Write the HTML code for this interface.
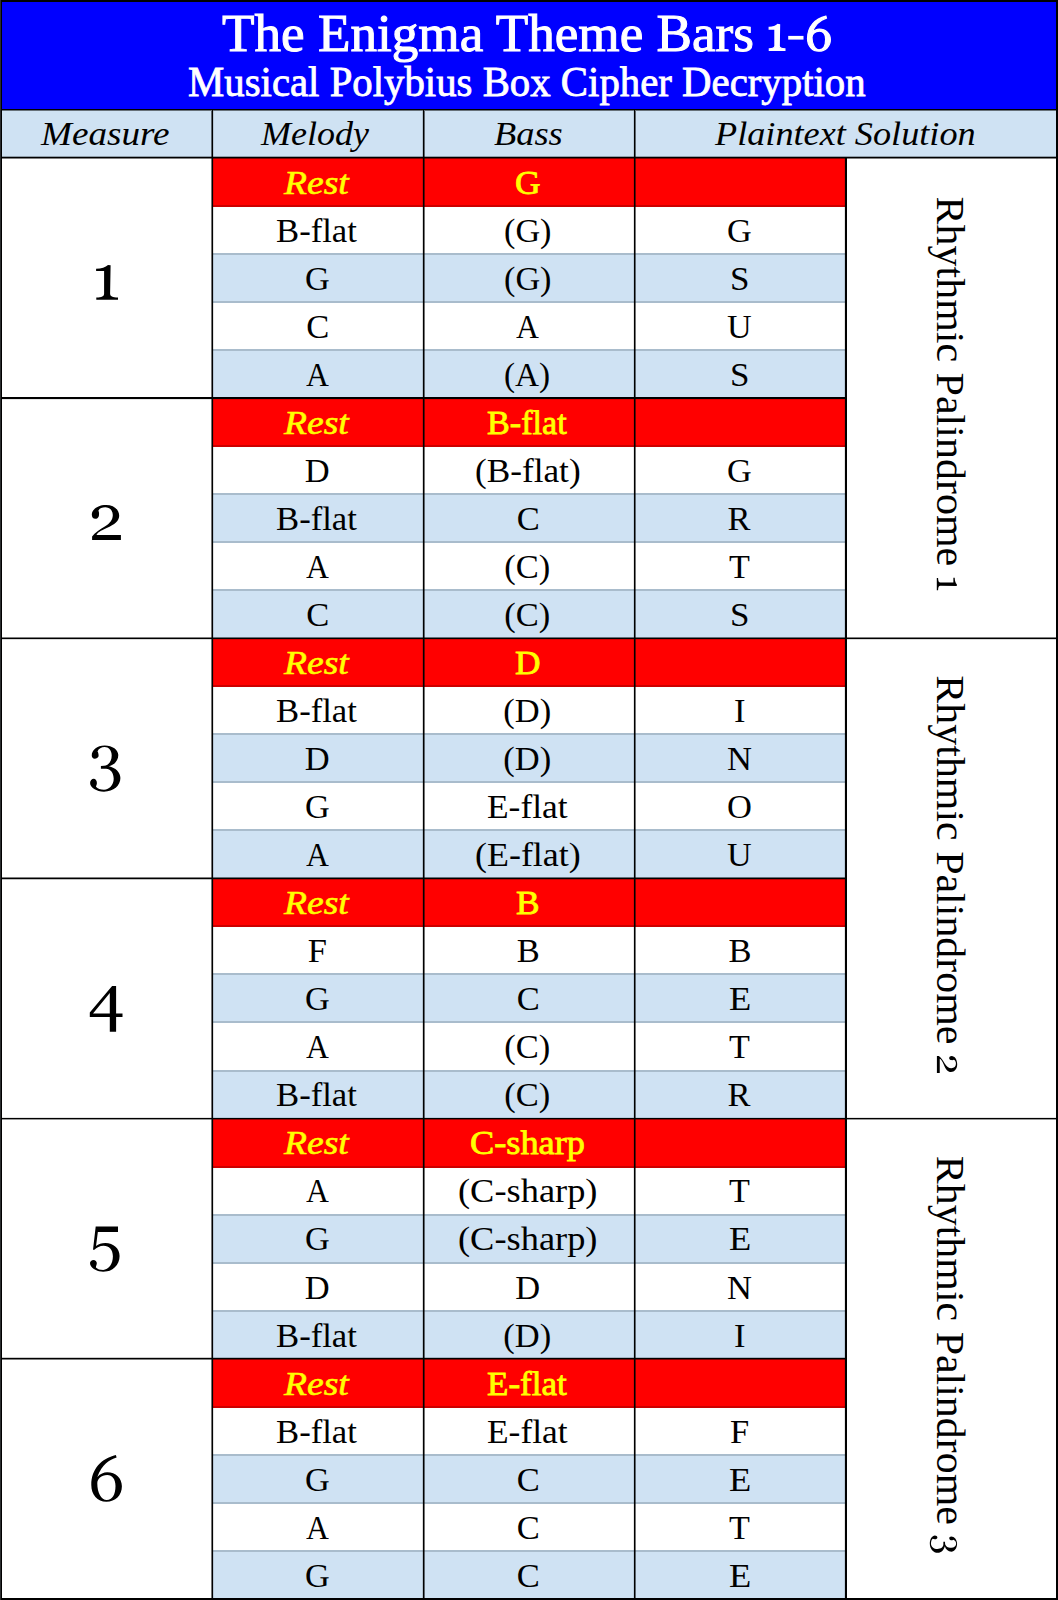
<!DOCTYPE html><html><head><meta charset="utf-8"><title>The Enigma Theme Bars 1-6</title><style>
html,body{margin:0;padding:0;background:#fff}body{width:1058px;height:1600px;position:relative;overflow:hidden}
.b{position:absolute}
.t{position:absolute;height:0;line-height:0;white-space:nowrap;font-family:"Liberation Serif",serif;transform-origin:0 0}
</style></head><body>
<div class="b" style="left:2px;top:2px;width:1054px;height:107px;background:#0000ff"></div>
<div class="b" style="left:2px;top:110px;width:1054px;height:47px;background:#cfe2f3"></div>
<div class="b" style="left:213px;top:158px;width:632px;height:48px;background:#ff0000"></div>
<div class="b" style="left:213px;top:206px;width:632px;height:48px;background:#ffffff"></div>
<div class="b" style="left:213px;top:254px;width:632px;height:48px;background:#cfe2f3"></div>
<div class="b" style="left:213px;top:302px;width:632px;height:48px;background:#ffffff"></div>
<div class="b" style="left:213px;top:350px;width:632px;height:48px;background:#cfe2f3"></div>
<div class="b" style="left:213px;top:398px;width:632px;height:48px;background:#ff0000"></div>
<div class="b" style="left:213px;top:446px;width:632px;height:48px;background:#ffffff"></div>
<div class="b" style="left:213px;top:494px;width:632px;height:48px;background:#cfe2f3"></div>
<div class="b" style="left:213px;top:542px;width:632px;height:48px;background:#ffffff"></div>
<div class="b" style="left:213px;top:590px;width:632px;height:48px;background:#cfe2f3"></div>
<div class="b" style="left:213px;top:638px;width:632px;height:48px;background:#ff0000"></div>
<div class="b" style="left:213px;top:686px;width:632px;height:48px;background:#ffffff"></div>
<div class="b" style="left:213px;top:734px;width:632px;height:49px;background:#cfe2f3"></div>
<div class="b" style="left:213px;top:783px;width:632px;height:48px;background:#ffffff"></div>
<div class="b" style="left:213px;top:831px;width:632px;height:48px;background:#cfe2f3"></div>
<div class="b" style="left:213px;top:879px;width:632px;height:48px;background:#ff0000"></div>
<div class="b" style="left:213px;top:927px;width:632px;height:48px;background:#ffffff"></div>
<div class="b" style="left:213px;top:975px;width:632px;height:48px;background:#cfe2f3"></div>
<div class="b" style="left:213px;top:1023px;width:632px;height:48px;background:#ffffff"></div>
<div class="b" style="left:213px;top:1071px;width:632px;height:48px;background:#cfe2f3"></div>
<div class="b" style="left:213px;top:1119px;width:632px;height:48px;background:#ff0000"></div>
<div class="b" style="left:213px;top:1167px;width:632px;height:48px;background:#ffffff"></div>
<div class="b" style="left:213px;top:1215px;width:632px;height:48px;background:#cfe2f3"></div>
<div class="b" style="left:213px;top:1263px;width:632px;height:48px;background:#ffffff"></div>
<div class="b" style="left:213px;top:1311px;width:632px;height:48px;background:#cfe2f3"></div>
<div class="b" style="left:213px;top:1359px;width:632px;height:48px;background:#ff0000"></div>
<div class="b" style="left:213px;top:1407px;width:632px;height:48px;background:#ffffff"></div>
<div class="b" style="left:213px;top:1455px;width:632px;height:48px;background:#cfe2f3"></div>
<div class="b" style="left:213px;top:1503px;width:632px;height:48px;background:#ffffff"></div>
<div class="b" style="left:213px;top:1551px;width:632px;height:48px;background:#cfe2f3"></div>
<div class="b" style="left:213px;top:205px;width:632px;height:2px;background:#cc0000"></div>
<div class="b" style="left:213px;top:253px;width:632px;height:2px;background:#a9bccc"></div>
<div class="b" style="left:213px;top:301px;width:632px;height:2px;background:#a9bccc"></div>
<div class="b" style="left:213px;top:349px;width:632px;height:2px;background:#a9bccc"></div>
<div class="b" style="left:213px;top:445px;width:632px;height:2px;background:#cc0000"></div>
<div class="b" style="left:213px;top:493px;width:632px;height:2px;background:#a9bccc"></div>
<div class="b" style="left:213px;top:541px;width:632px;height:2px;background:#a9bccc"></div>
<div class="b" style="left:213px;top:589px;width:632px;height:2px;background:#a9bccc"></div>
<div class="b" style="left:213px;top:685px;width:632px;height:2px;background:#cc0000"></div>
<div class="b" style="left:213px;top:733px;width:632px;height:2px;background:#a9bccc"></div>
<div class="b" style="left:213px;top:781px;width:632px;height:2px;background:#a9bccc"></div>
<div class="b" style="left:213px;top:829px;width:632px;height:2px;background:#a9bccc"></div>
<div class="b" style="left:213px;top:925px;width:632px;height:2px;background:#cc0000"></div>
<div class="b" style="left:213px;top:973px;width:632px;height:2px;background:#a9bccc"></div>
<div class="b" style="left:213px;top:1021px;width:632px;height:2px;background:#a9bccc"></div>
<div class="b" style="left:213px;top:1070px;width:632px;height:2px;background:#a9bccc"></div>
<div class="b" style="left:213px;top:1166px;width:632px;height:2px;background:#cc0000"></div>
<div class="b" style="left:213px;top:1214px;width:632px;height:2px;background:#a9bccc"></div>
<div class="b" style="left:213px;top:1262px;width:632px;height:2px;background:#a9bccc"></div>
<div class="b" style="left:213px;top:1310px;width:632px;height:2px;background:#a9bccc"></div>
<div class="b" style="left:213px;top:1406px;width:632px;height:2px;background:#cc0000"></div>
<div class="b" style="left:213px;top:1454px;width:632px;height:2px;background:#a9bccc"></div>
<div class="b" style="left:213px;top:1502px;width:632px;height:2px;background:#a9bccc"></div>
<div class="b" style="left:213px;top:1550px;width:632px;height:2px;background:#a9bccc"></div>
<div class="b" style="left:0px;top:0px;width:1058px;height:2px;background:#000000"></div>
<div class="b" style="left:0px;top:1598px;width:1058px;height:2px;background:#000000"></div>
<div class="b" style="left:1px;top:0px;width:1px;height:1600px;background:#000000"></div>
<div class="b" style="left:0px;top:0px;width:1px;height:1600px;background:#2b2d2f"></div>
<div class="b" style="left:1056px;top:0px;width:2px;height:1600px;background:#000000"></div>
<div class="b" style="left:2px;top:109px;width:1054px;height:1px;background:#000000"></div>
<div class="b" style="left:2px;top:110px;width:1054px;height:1px;background:rgba(0,0,0,0.5)"></div>
<div class="b" style="left:211px;top:111px;width:1px;height:1487px;background:rgba(0,0,0,0.55)"></div>
<div class="b" style="left:212px;top:110px;width:1px;height:1488px;background:#000000"></div>
<div class="b" style="left:213px;top:111px;width:1px;height:1487px;background:rgba(0,0,0,0.12)"></div>
<div class="b" style="left:422px;top:111px;width:1px;height:1487px;background:rgba(0,0,0,0.15)"></div>
<div class="b" style="left:423px;top:110px;width:1px;height:1488px;background:#000000"></div>
<div class="b" style="left:424px;top:111px;width:1px;height:1487px;background:rgba(0,0,0,0.55)"></div>
<div class="b" style="left:633px;top:111px;width:1px;height:1487px;background:rgba(0,0,0,0.1)"></div>
<div class="b" style="left:634px;top:110px;width:1px;height:1488px;background:#000000"></div>
<div class="b" style="left:635px;top:111px;width:1px;height:1487px;background:rgba(0,0,0,0.55)"></div>
<div class="b" style="left:844px;top:158px;width:1px;height:1440px;background:rgba(0,0,0,0.1)"></div>
<div class="b" style="left:845px;top:157px;width:2px;height:1441px;background:#000000"></div>
<div class="b" style="left:2px;top:156px;width:1054px;height:1px;background:rgba(0,0,0,0.3)"></div>
<div class="b" style="left:2px;top:158px;width:1054px;height:1px;background:rgba(0,0,0,0.5)"></div>
<div class="b" style="left:2px;top:157px;width:1054px;height:1px;background:#000000"></div>
<div class="b" style="left:2px;top:399px;width:843px;height:1px;background:rgba(0,0,0,0.1)"></div>
<div class="b" style="left:2px;top:397px;width:843px;height:1px;background:#000000"></div>
<div class="b" style="left:2px;top:398px;width:843px;height:1px;background:#000000"></div>
<div class="b" style="left:2px;top:637px;width:1054px;height:1px;background:rgba(0,0,0,0.5)"></div>
<div class="b" style="left:2px;top:639px;width:1054px;height:1px;background:rgba(0,0,0,0.15)"></div>
<div class="b" style="left:2px;top:638px;width:1054px;height:1px;background:#000000"></div>
<div class="b" style="left:2px;top:877px;width:843px;height:1px;background:rgba(0,0,0,0.5)"></div>
<div class="b" style="left:2px;top:879px;width:843px;height:1px;background:rgba(0,0,0,0.25)"></div>
<div class="b" style="left:2px;top:878px;width:843px;height:1px;background:#000000"></div>
<div class="b" style="left:2px;top:1117px;width:1054px;height:1px;background:rgba(0,0,0,0.1)"></div>
<div class="b" style="left:2px;top:1119px;width:1054px;height:1px;background:rgba(0,0,0,0.4)"></div>
<div class="b" style="left:2px;top:1118px;width:1054px;height:1px;background:#000000"></div>
<div class="b" style="left:2px;top:1357px;width:843px;height:1px;background:rgba(0,0,0,0.2)"></div>
<div class="b" style="left:2px;top:1359px;width:843px;height:1px;background:rgba(0,0,0,0.5)"></div>
<div class="b" style="left:2px;top:1358px;width:843px;height:1px;background:#000000"></div>
<div class="t" style="left:221.6px;top:32.8px;font-size:52.7px;color:#fff;-webkit-text-stroke:1.0px #fff;transform:scaleX(1.0091)">The Enigma Theme Bars<span style="color:transparent;-webkit-text-stroke:0"> 1-6</span></div>
<div class="t" style="left:187.91px;top:82.3px;font-size:41.2px;color:#fff;-webkit-text-stroke:0.8px #fff;transform:scaleX(0.9905)">Musical Polybius Box Cipher Decryption</div>
<div class="t" style="left:41px;top:134.2px;font-size:33.6px;color:#000;font-style:italic;transform:scaleX(1.1061)">Measure</div>
<div class="t" style="left:261.2px;top:134.2px;font-size:33.6px;color:#000;font-style:italic;transform:scaleX(1.0723)">Melody</div>
<div class="t" style="left:493.82px;top:134.2px;font-size:33.6px;color:#000;font-style:italic;transform:scaleX(1.0836)">Bass</div>
<div class="t" style="left:715px;top:134.2px;font-size:33.6px;color:#000;font-style:italic;transform:scaleX(1.0792)">Plaintext Solution</div>
<div class="t" style="left:284.1px;top:182.6px;font-size:34px;color:#ffff00;font-style:italic;-webkit-text-stroke:0.6px #ffff00;transform:scaleX(1.1051)">Rest</div>
<div class="t" style="left:514.8px;top:182.6px;font-size:34px;color:#ffff00;-webkit-text-stroke:0.8px #ffff00;transform:scaleX(1.0400)">G</div>
<div class="t" style="left:276.49px;top:229.64px;font-size:34.5px;color:#000;transform:scaleX(1.0051)">B-flat</div>
<div class="t" style="left:503.52px;top:229.64px;font-size:34.5px;color:#000;transform:scaleX(0.9911)">(G)</div>
<div class="t" style="left:727.21px;top:229.64px;font-size:34.5px;color:#000;transform:scaleX(0.9913)">G</div>
<div class="t" style="left:304.81px;top:277.68px;font-size:34.5px;color:#000;transform:scaleX(0.9913)">G</div>
<div class="t" style="left:503.52px;top:277.68px;font-size:34.5px;color:#000;transform:scaleX(0.9911)">(G)</div>
<div class="t" style="left:729.97px;top:277.68px;font-size:34.5px;color:#000;transform:scaleX(1.0133)">S</div>
<div class="t" style="left:306.2px;top:325.72px;font-size:34.5px;color:#000">C</div>
<div class="t" style="left:516.3px;top:325.72px;font-size:34.5px;color:#000;transform:scaleX(0.9200)">A</div>
<div class="t" style="left:727.21px;top:325.72px;font-size:34.5px;color:#000;transform:scaleX(0.9913)">U</div>
<div class="t" style="left:305.7px;top:373.76px;font-size:34.5px;color:#000;transform:scaleX(0.9200)">A</div>
<div class="t" style="left:504.17px;top:373.76px;font-size:34.5px;color:#000;transform:scaleX(0.9644)">(A)</div>
<div class="t" style="left:729.97px;top:373.76px;font-size:34.5px;color:#000;transform:scaleX(1.0133)">S</div>
<div class="t" style="left:284.1px;top:422.8px;font-size:34px;color:#ffff00;font-style:italic;-webkit-text-stroke:0.6px #ffff00;transform:scaleX(1.1051)">Rest</div>
<div class="t" style="left:487.09px;top:422.8px;font-size:34px;color:#ffff00;-webkit-text-stroke:0.8px #ffff00;transform:scaleX(1.0051)">B-flat</div>
<div class="t" style="left:304.7px;top:469.84px;font-size:34.5px;color:#000">D</div>
<div class="t" style="left:474.71px;top:469.84px;font-size:34.5px;color:#000;transform:scaleX(1.0210)">(B-flat)</div>
<div class="t" style="left:727.21px;top:469.84px;font-size:34.5px;color:#000;transform:scaleX(0.9913)">G</div>
<div class="t" style="left:276.49px;top:517.88px;font-size:34.5px;color:#000;transform:scaleX(1.0051)">B-flat</div>
<div class="t" style="left:516.8px;top:517.88px;font-size:34.5px;color:#000">C</div>
<div class="t" style="left:727.6px;top:517.88px;font-size:34.5px;color:#000">R</div>
<div class="t" style="left:305.7px;top:565.92px;font-size:34.5px;color:#000;transform:scaleX(0.9200)">A</div>
<div class="t" style="left:504.3px;top:565.92px;font-size:34.5px;color:#000">(C)</div>
<div class="t" style="left:728.71px;top:565.92px;font-size:34.5px;color:#000;transform:scaleX(0.9900)">T</div>
<div class="t" style="left:306.2px;top:613.96px;font-size:34.5px;color:#000">C</div>
<div class="t" style="left:504.3px;top:613.96px;font-size:34.5px;color:#000">(C)</div>
<div class="t" style="left:729.97px;top:613.96px;font-size:34.5px;color:#000;transform:scaleX(1.0133)">S</div>
<div class="t" style="left:284.1px;top:663px;font-size:34px;color:#ffff00;font-style:italic;-webkit-text-stroke:0.6px #ffff00;transform:scaleX(1.1051)">Rest</div>
<div class="t" style="left:514.8px;top:663px;font-size:34px;color:#ffff00;-webkit-text-stroke:0.8px #ffff00;transform:scaleX(1.0400)">D</div>
<div class="t" style="left:276.49px;top:710.04px;font-size:34.5px;color:#000;transform:scaleX(1.0051)">B-flat</div>
<div class="t" style="left:503.3px;top:710.04px;font-size:34.5px;color:#000">(D)</div>
<div class="t" style="left:734.1px;top:710.04px;font-size:34.5px;color:#000">I</div>
<div class="t" style="left:304.7px;top:758.08px;font-size:34.5px;color:#000">D</div>
<div class="t" style="left:503.3px;top:758.08px;font-size:34.5px;color:#000">(D)</div>
<div class="t" style="left:727.1px;top:758.08px;font-size:34.5px;color:#000">N</div>
<div class="t" style="left:304.81px;top:806.12px;font-size:34.5px;color:#000;transform:scaleX(0.9913)">G</div>
<div class="t" style="left:487.27px;top:806.12px;font-size:34.5px;color:#000;transform:scaleX(1.0260)">E-flat</div>
<div class="t" style="left:727.1px;top:806.12px;font-size:34.5px;color:#000">O</div>
<div class="t" style="left:305.7px;top:854.16px;font-size:34.5px;color:#000;transform:scaleX(0.9200)">A</div>
<div class="t" style="left:474.67px;top:854.16px;font-size:34.5px;color:#000;transform:scaleX(1.0418)">(E-flat)</div>
<div class="t" style="left:727.21px;top:854.16px;font-size:34.5px;color:#000;transform:scaleX(0.9913)">U</div>
<div class="t" style="left:284.1px;top:903.2px;font-size:34px;color:#ffff00;font-style:italic;-webkit-text-stroke:0.6px #ffff00;transform:scaleX(1.1051)">Rest</div>
<div class="t" style="left:515.84px;top:903.2px;font-size:34px;color:#ffff00;-webkit-text-stroke:0.8px #ffff00;transform:scaleX(1.0400)">B</div>
<div class="t" style="left:307.7px;top:950.24px;font-size:34.5px;color:#000">F</div>
<div class="t" style="left:516.8px;top:950.24px;font-size:34.5px;color:#000">B</div>
<div class="t" style="left:728.6px;top:950.24px;font-size:34.5px;color:#000">B</div>
<div class="t" style="left:304.81px;top:998.28px;font-size:34.5px;color:#000;transform:scaleX(0.9913)">G</div>
<div class="t" style="left:516.8px;top:998.28px;font-size:34.5px;color:#000">C</div>
<div class="t" style="left:729.04px;top:998.28px;font-size:34.5px;color:#000;transform:scaleX(1.0556)">E</div>
<div class="t" style="left:305.7px;top:1046.32px;font-size:34.5px;color:#000;transform:scaleX(0.9200)">A</div>
<div class="t" style="left:504.3px;top:1046.32px;font-size:34.5px;color:#000">(C)</div>
<div class="t" style="left:728.71px;top:1046.32px;font-size:34.5px;color:#000;transform:scaleX(0.9900)">T</div>
<div class="t" style="left:276.49px;top:1094.36px;font-size:34.5px;color:#000;transform:scaleX(1.0051)">B-flat</div>
<div class="t" style="left:504.3px;top:1094.36px;font-size:34.5px;color:#000">(C)</div>
<div class="t" style="left:727.6px;top:1094.36px;font-size:34.5px;color:#000">R</div>
<div class="t" style="left:284.1px;top:1143.4px;font-size:34px;color:#ffff00;font-style:italic;-webkit-text-stroke:0.6px #ffff00;transform:scaleX(1.1051)">Rest</div>
<div class="t" style="left:470.18px;top:1143.4px;font-size:34px;color:#ffff00;-webkit-text-stroke:0.8px #ffff00;transform:scaleX(1.0670)">C-sharp</div>
<div class="t" style="left:305.7px;top:1190.44px;font-size:34.5px;color:#000;transform:scaleX(0.9200)">A</div>
<div class="t" style="left:457.64px;top:1190.44px;font-size:34.5px;color:#000;transform:scaleX(1.0550)">(C-sharp)</div>
<div class="t" style="left:728.71px;top:1190.44px;font-size:34.5px;color:#000;transform:scaleX(0.9900)">T</div>
<div class="t" style="left:304.81px;top:1238.48px;font-size:34.5px;color:#000;transform:scaleX(0.9913)">G</div>
<div class="t" style="left:457.64px;top:1238.48px;font-size:34.5px;color:#000;transform:scaleX(1.0550)">(C-sharp)</div>
<div class="t" style="left:729.04px;top:1238.48px;font-size:34.5px;color:#000;transform:scaleX(1.0556)">E</div>
<div class="t" style="left:304.7px;top:1286.52px;font-size:34.5px;color:#000">D</div>
<div class="t" style="left:515.3px;top:1286.52px;font-size:34.5px;color:#000">D</div>
<div class="t" style="left:727.1px;top:1286.52px;font-size:34.5px;color:#000">N</div>
<div class="t" style="left:276.49px;top:1334.56px;font-size:34.5px;color:#000;transform:scaleX(1.0051)">B-flat</div>
<div class="t" style="left:503.3px;top:1334.56px;font-size:34.5px;color:#000">(D)</div>
<div class="t" style="left:734.1px;top:1334.56px;font-size:34.5px;color:#000">I</div>
<div class="t" style="left:284.1px;top:1383.6px;font-size:34px;color:#ffff00;font-style:italic;-webkit-text-stroke:0.6px #ffff00;transform:scaleX(1.1051)">Rest</div>
<div class="t" style="left:487.07px;top:1383.6px;font-size:34px;color:#ffff00;-webkit-text-stroke:0.8px #ffff00;transform:scaleX(1.0312)">E-flat</div>
<div class="t" style="left:276.49px;top:1430.64px;font-size:34.5px;color:#000;transform:scaleX(1.0051)">B-flat</div>
<div class="t" style="left:487.27px;top:1430.64px;font-size:34.5px;color:#000;transform:scaleX(1.0260)">E-flat</div>
<div class="t" style="left:730.1px;top:1430.64px;font-size:34.5px;color:#000">F</div>
<div class="t" style="left:304.81px;top:1478.68px;font-size:34.5px;color:#000;transform:scaleX(0.9913)">G</div>
<div class="t" style="left:516.8px;top:1478.68px;font-size:34.5px;color:#000">C</div>
<div class="t" style="left:729.04px;top:1478.68px;font-size:34.5px;color:#000;transform:scaleX(1.0556)">E</div>
<div class="t" style="left:305.7px;top:1526.72px;font-size:34.5px;color:#000;transform:scaleX(0.9200)">A</div>
<div class="t" style="left:516.8px;top:1526.72px;font-size:34.5px;color:#000">C</div>
<div class="t" style="left:728.71px;top:1526.72px;font-size:34.5px;color:#000;transform:scaleX(0.9900)">T</div>
<div class="t" style="left:304.81px;top:1574.76px;font-size:34.5px;color:#000;transform:scaleX(0.9913)">G</div>
<div class="t" style="left:516.8px;top:1574.76px;font-size:34.5px;color:#000">C</div>
<div class="t" style="left:729.04px;top:1574.76px;font-size:34.5px;color:#000;transform:scaleX(1.0556)">E</div>
<div class="t" style="left:96.0px;top:279.8px;font-size:48px;color:transparent">1</div>
<div class="t" style="left:91.8px;top:519.9px;font-size:48px;color:transparent">2</div>
<div class="t" style="left:90.0px;top:771.7px;font-size:48px;color:transparent">3</div>
<div class="t" style="left:89.8px;top:1011.8px;font-size:48px;color:transparent">4</div>
<div class="t" style="left:90.0px;top:1251.7px;font-size:48px;color:transparent">5</div>
<div class="t" style="left:91.3px;top:1481.8px;font-size:48px;color:transparent">6</div>
<div class="t" style="left:0;top:0;font-size:40px;-webkit-text-stroke:0.0px #000;transform:translate(949.9px,196.45px) rotate(90deg) scaleX(1.0500)">Rhythmic Palindrome<span style="color:transparent"> 1</span></div>
<div class="t" style="left:0;top:0;font-size:40px;-webkit-text-stroke:0.0px #000;transform:translate(949.9px,675.35px) rotate(90deg) scaleX(1.0480)">Rhythmic Palindrome<span style="color:transparent"> 2</span></div>
<div class="t" style="left:0;top:0;font-size:40px;-webkit-text-stroke:0.0px #000;transform:translate(949.9px,1155.85px) rotate(90deg) scaleX(1.0477)">Rhythmic Palindrome<span style="color:transparent"> 3</span></div>
<svg class="b" style="left:0;top:0" width="1058" height="1600" viewBox="0 0 1058 1600"><path fill="#000" fill-rule="evenodd" transform="translate(96.00,265.00) scale(1.0000,1.0000)" d="M14.6,0.3 L14.1,28.5 C14.1,31.5 16.5,32.4 22,32.6 L22,34.8 L0.3,34.8 L0.3,32.6 C5.8,32.4 8.1,31.5 8.1,28.5 L8.1,6.1 L0.1,6.1 L0.1,3.8 C5.5,3.6 9.5,2.5 12,0 Z"/><path fill="#000" fill-rule="evenodd" transform="translate(91.80,505.00) scale(1.0000,1.0000)" d="M0,9.4 C0,4.5 6,0 14.2,0 C22,0 27.4,4.5 27.4,10.8 C27.4,16 23,19.5 14.9,23 C9,25.7 5,28 4.8,30 L29.1,30 L29.1,34.9 L0.3,34.9 L0.3,31.5 C3,27.5 8,24.5 13,21.5 C18.5,18.3 21,14.5 21,10.1 C21,5 17.5,2.2 13.4,2.2 C10,2.2 7.3,3.5 6.6,5.8 C7.3,7 7.5,9 7,11.2 C6.5,12.8 5,13.8 3.5,13.8 C1.3,13.8 0,11.9 0,9.4 Z"/><path fill="#000" fill-rule="evenodd" transform="translate(90.00,745.20) scale(1.0000,1.0000)" d="M1.75,10.2 C1.75,5 7,0.2 14.7,0.2 C22.5,0.2 28.3,4.5 28.3,9.9 C28.3,15.5 24.5,19.5 19,21 C25.5,22.5 30.4,27 30.4,32.9 C30.4,40.5 23.5,46.5 14,46.5 C6.5,46.5 0.1,42.5 0.1,37.9 C0.1,35.5 1.8,33.6 3.7,33.6 C5.5,33.6 6.9,35.5 6.9,37.9 C6.9,39.5 6.2,40.5 6,41.5 C7.5,43.3 10.5,44.5 14,44.5 C19.5,44.5 23.7,39.5 23.7,33.6 C23.7,27.5 20.5,23.6 16,23.5 L10.9,23.5 L10.9,20.7 L14,20.6 C18.5,20.3 21.7,16 21.7,10.2 C21.7,5 18.5,1.8 14.7,1.8 C11.5,1.8 8.5,3.5 7.5,6.3 C8.3,7.3 8.6,9 8.6,10.6 C8.6,12.3 6.8,13.5 4.6,13.5 C3,13.5 1.75,12 1.75,10.2 Z"/><path fill="#000" fill-rule="evenodd" transform="translate(89.80,985.90) scale(1.0000,1.0000)" d="M22.3,0 L26.3,0 L26.3,27.7 L32.7,27.7 L32.7,31 L26.3,31 L26.3,45.9 L20,45.9 L20,31 L0,31 L0,26.6 Z M20,7 L3.2,27.7 L20,27.7 Z"/><path fill="#000" fill-rule="evenodd" transform="translate(90.00,1226.60) scale(1.0000,1.0000)" d="M5.7,0 L28,0 L28,5.3 L7.85,5.3 L6.05,19.3 C8.5,17.5 11.5,16.4 15.4,16.4 C23.5,16.4 29.6,22 29.6,29.3 C29.6,38.5 22.5,45.1 13.2,45.1 C6,45.1 0,41 0,36.5 C0,34.6 1.6,33.3 3.5,33.3 C5.3,33.3 6.8,34.6 6.8,36.5 C6.8,38.3 6,39.5 5.9,40.8 C7.5,42.5 10,43.3 13.2,43.3 C18.5,43.3 22.9,37.5 22.9,29.7 C22.9,23 19,19.1 13.6,19.1 C10,19.1 6.5,21 4.4,23.2 L3,23.2 Z"/><path fill="#000" fill-rule="evenodd" transform="translate(91.30,1454.90) scale(1.0000,1.0000)" d="M24.6,0 L25.3,2.7 C18,4.8 11,9.5 6,22 C9,19 12.5,17.4 15.9,17.4 C24.5,17.4 30.6,23.5 30.6,31.4 C30.6,40.5 24,46.9 15.1,46.9 C6,46.9 0,39.5 0,30 C0,14 10,3.5 24.6,0 Z M15.9,20.1 C10,20.1 6,24 6,28.5 C6,37.5 10,45 15.5,45 C21,45 24.2,39.5 24.2,31 C24.2,24.5 21,20.1 15.9,20.1 Z"/><path fill="#fff" stroke="#fff" stroke-width="1.2" vector-effect="non-scaling-stroke" fill-rule="evenodd" transform="translate(769.10,24.50) scale(0.7182,0.7471)" d="M14.6,0.3 L14.1,28.5 C14.1,31.5 16.5,32.4 22,32.6 L22,34.8 L0.3,34.8 L0.3,32.6 C5.8,32.4 8.1,31.5 8.1,28.5 L8.1,6.1 L0.1,6.1 L0.1,3.8 C5.5,3.6 9.5,2.5 12,0 Z"/><rect x="788.2" y="35.9" width="15.3" height="3.7" fill="#fff"/><path fill="#fff" stroke="#fff" stroke-width="1.2" vector-effect="non-scaling-stroke" fill-rule="evenodd" transform="translate(807.50,16.10) scale(0.7484,0.7484)" d="M24.6,0 L25.3,2.7 C18,4.8 11,9.5 6,22 C9,19 12.5,17.4 15.9,17.4 C24.5,17.4 30.6,23.5 30.6,31.4 C30.6,40.5 24,46.9 15.1,46.9 C6,46.9 0,39.5 0,30 C0,14 10,3.5 24.6,0 Z M15.9,20.1 C10,20.1 6,24 6,28.5 C6,37.5 10,45 15.5,45 C21,45 24.2,39.5 24.2,31 C24.2,24.5 21,20.1 15.9,20.1 Z"/><path fill="#000" fill-rule="evenodd" transform="translate(956.90,577.80) rotate(90) scale(0.5682,0.5776)" d="M14.6,0.3 L14.1,28.5 C14.1,31.5 16.5,32.4 22,32.6 L22,34.8 L0.3,34.8 L0.3,32.6 C5.8,32.4 8.1,31.5 8.1,28.5 L8.1,6.1 L0.1,6.1 L0.1,3.8 C5.5,3.6 9.5,2.5 12,0 Z"/><path fill="#000" fill-rule="evenodd" transform="translate(957.20,1055.90) rotate(90) scale(0.5876,0.5817)" d="M0,9.4 C0,4.5 6,0 14.2,0 C22,0 27.4,4.5 27.4,10.8 C27.4,16 23,19.5 14.9,23 C9,25.7 5,28 4.8,30 L29.1,30 L29.1,34.9 L0.3,34.9 L0.3,31.5 C3,27.5 8,24.5 13,21.5 C18.5,18.3 21,14.5 21,10.1 C21,5 17.5,2.2 13.4,2.2 C10,2.2 7.3,3.5 6.6,5.8 C7.3,7 7.5,9 7,11.2 C6.5,12.8 5,13.8 3.5,13.8 C1.3,13.8 0,11.9 0,9.4 Z"/><path fill="#000" fill-rule="evenodd" transform="translate(957.20,1535.40) rotate(90) scale(0.5738,0.5892)" d="M1.75,10.2 C1.75,5 7,0.2 14.7,0.2 C22.5,0.2 28.3,4.5 28.3,9.9 C28.3,15.5 24.5,19.5 19,21 C25.5,22.5 30.4,27 30.4,32.9 C30.4,40.5 23.5,46.5 14,46.5 C6.5,46.5 0.1,42.5 0.1,37.9 C0.1,35.5 1.8,33.6 3.7,33.6 C5.5,33.6 6.9,35.5 6.9,37.9 C6.9,39.5 6.2,40.5 6,41.5 C7.5,43.3 10.5,44.5 14,44.5 C19.5,44.5 23.7,39.5 23.7,33.6 C23.7,27.5 20.5,23.6 16,23.5 L10.9,23.5 L10.9,20.7 L14,20.6 C18.5,20.3 21.7,16 21.7,10.2 C21.7,5 18.5,1.8 14.7,1.8 C11.5,1.8 8.5,3.5 7.5,6.3 C8.3,7.3 8.6,9 8.6,10.6 C8.6,12.3 6.8,13.5 4.6,13.5 C3,13.5 1.75,12 1.75,10.2 Z"/></svg>
</body></html>
